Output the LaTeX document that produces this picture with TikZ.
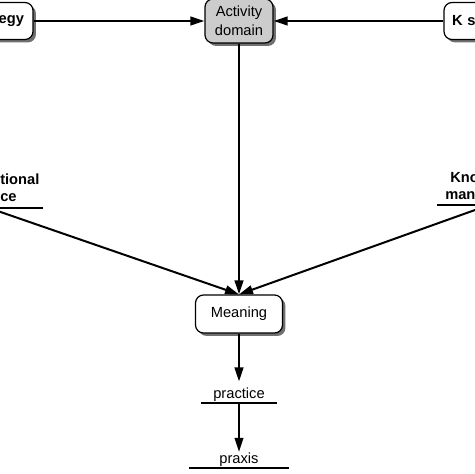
\documentclass[tikz,border=0pt]{standalone}
\usepackage{fontspec}
\setmainfont{Liberation Sans}
\usetikzlibrary{arrows.meta,shadows}
\tikzset{
	box/.style={draw,rounded corners=6pt,align=center,line width=0.9pt,fill=white,
		drop shadow={shadow xshift=2.2pt,shadow yshift=-2.2pt,fill=black!70,opacity=0.8}},
	greybox/.style={box,fill=gray!40},
	lbl/.style={inner sep=0pt,align=left,font=\fontsize{11}{13}\selectfont\bfseries},
	uline/.style={inner xsep=0pt,inner ysep=0.75pt},
	link/.style={line width=1.5pt},
	rule/.style={line width=0.9pt}
}

\begin{document}
\begin{tikzpicture}[x=0.75pt,y=-0.75pt,>={Triangle[length=10.5pt,width=6.5pt]},
	every node/.style={font=\fontsize{11}{14.25}\selectfont}]
	\useasboundingbox (0,0) rectangle (474,474);

	\node[box,font=\fontsize{11}{14.25}\selectfont\bfseries,text width=61.5pt,align=right,inner xsep=6.75pt,minimum height=27.75pt] (strat) at (-17,21) {egy};
	\node[greybox,minimum width=51pt,minimum height=33pt] (act) at (239,21) {Activity\\domain};
	\node[box,font=\fontsize{11}{14.25}\selectfont\bfseries,text width=63pt,align=left,inner xsep=6pt,minimum height=27.75pt] (ksys) at (494,21) {K s};

	\node[lbl,anchor=south west] (org) at (0,202) {tional\\ce};
	\coordinate (orgl) at (-65,208);
	\coordinate (orgr) at (43,208);
	\coordinate (orgm) at (-11,208);

	\node[lbl,anchor=south west] (km) at (445,200) {\hspace*{3.75pt}Kno\\man};
	\coordinate (kml) at (437,205);
	\coordinate (kmr) at (541,205);
	\coordinate (kmm) at (489,205);

	\node[box,minimum width=65.25pt,minimum height=28.5pt] (mean) at (239,314) {Meaning};
	\node[uline,minimum width=56.25pt,anchor=south] (prac) at (239,403) {practice};
	\node[uline,minimum width=74.25pt,anchor=south] (prax) at (239,468) {praxis};

	\draw[rule] (orgl) -- (orgr);
	\draw[rule] (kml) -- (kmr);
	\draw[rule] (prac.south west) -- (prac.south east);
	\draw[rule] (prax.south west) -- (prax.south east);

	\draw[link,->] (strat) -- (act);
	\draw[link,->] (ksys) -- (act);
	\draw[link,->] (act) -- (mean);
	\draw[link,->] (orgm) -- (mean.north);
	\draw[link,->] (kmm) -- (mean.north);
	\draw[link,->,shorten >=4pt] (mean) -- (prac);
	\draw[link,->] (prac.south) -- (prax);
\end{tikzpicture}
\end{document}
